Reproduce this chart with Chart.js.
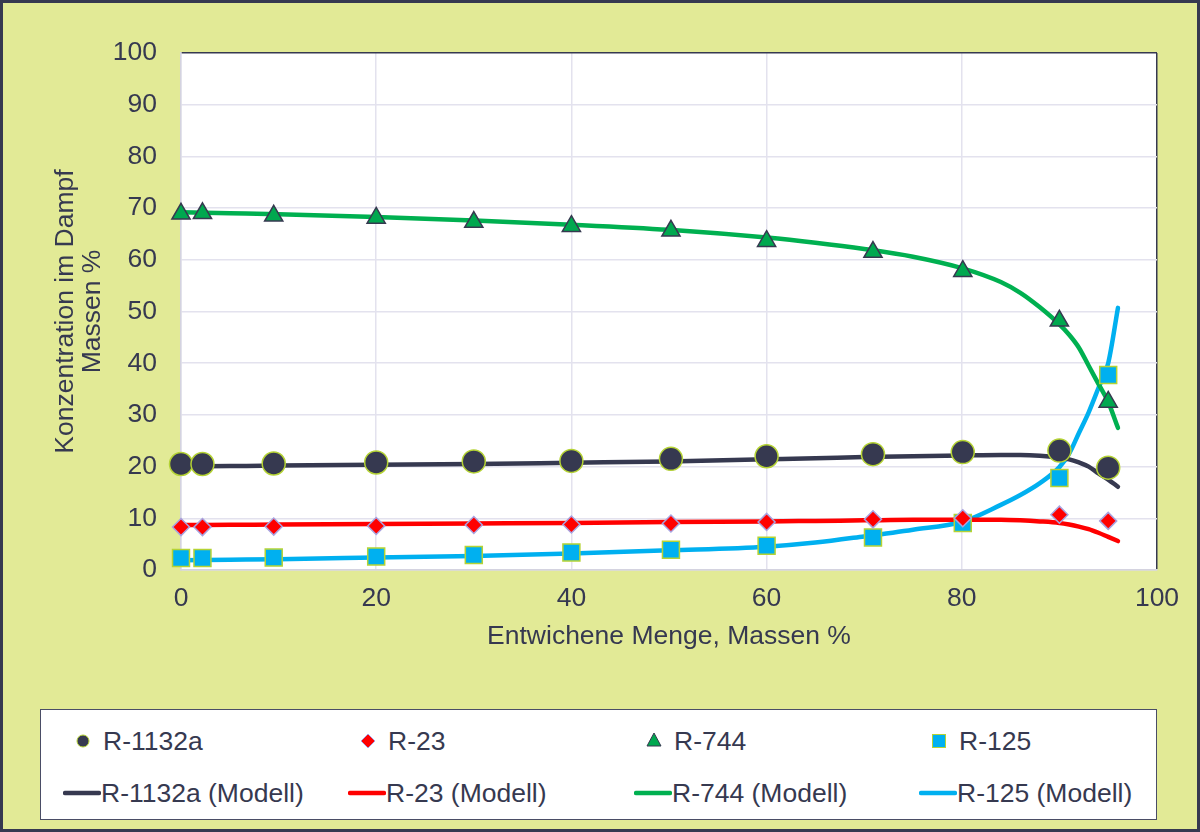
<!DOCTYPE html>
<html>
<head>
<meta charset="utf-8">
<script src="https://cdn.jsdelivr.net/npm/chart.js@4/dist/chart.umd.min.js"></script>
<style>
  body { margin: 0; }
  #page {
    position: relative; width: 1200px; height: 832px; box-sizing: border-box;
    background: #e2ea96; border: 3px solid #363950; overflow: hidden;
    font-family: "Liberation Sans", Arial, sans-serif; color: #363950;
  }
  #wrap { position: absolute; left: -3px; top: -3px; width: 1200px; height: 700px; }
  #legend {
    position: absolute; left: 37px; top: 706px; width: 1117px; height: 111px;
    background: #fff; border: 1.5px solid #4a4d66; box-sizing: border-box;
  }
  .item { position: absolute; font-size: 26.5px; line-height: 30px; white-space: nowrap; }
  .item svg { position: absolute; }
</style>
</head>
<body>
<div id="page">
  <div id="wrap"><canvas id="chart"></canvas></div>
  <div id="legend"></div>
</div>
<script>
// Messpunkte (entwichene Menge in Massen %)
const massX = [0, 2.2, 9.5, 20, 30, 40, 50.2, 60, 70.9, 80.1, 90, 95];
const r1132a = [20.5, 20.5, 20.6, 20.8, 21.0, 21.1, 21.5, 22.0, 22.4, 22.8, 23.1, 19.8];
const r23 = [8.3, 8.3, 8.4, 8.5, 8.7, 8.8, 9.0, 9.3, 9.8, 10.0, 10.7, 9.5];
const r744 = [68.9, 69.0, 68.5, 68.1, 67.3, 66.5, 65.6, 63.6, 61.5, 57.8, 48.2, 32.5];
const r125 = [2.3, 2.3, 2.4, 2.6, 2.9, 3.4, 3.9, 4.7, 6.3, 9.1, 17.8, 37.7];

// Modellkurven
const modelX = [0, 5, 10, 20, 30, 40, 50, 60, 65, 70, 75, 80, 84, 86, 88, 90, 91, 92, 93, 94, 95, 96];
const r1132aModel = [20.0, 20.1, 20.2, 20.35, 20.5, 20.75, 21.0, 21.4, 21.6, 21.85, 22.0, 22.15, 22.25, 22.25, 22.1, 21.7, 21.4, 20.8, 20.0, 18.7, 17.5, 16.1];
const r23Model = [8.7, 8.75, 8.8, 8.9, 9.0, 9.1, 9.3, 9.4, 9.5, 9.6, 9.7, 9.7, 9.7, 9.6, 9.4, 9.1, 8.8, 8.4, 7.9, 7.2, 6.4, 5.6];
const r744Model = [69.2, 69.0, 68.8, 68.3, 67.6, 66.8, 65.8, 64.3, 63.3, 62.1, 60.6, 58.4, 55.7, 53.6, 50.8, 47.5, 45.5, 43.0, 39.5, 36.0, 32.5, 27.5];
const r125Model = [1.9, 2.0, 2.1, 2.4, 2.7, 3.2, 3.8, 4.5, 5.3, 6.5, 7.8, 9.3, 12.6, 14.5, 16.8, 19.9, 22.5, 26.5, 30.5, 35.2, 40.0, 50.7];

const xTitle = 'Entwichene Menge, Massen %';
const yTitle = ['Konzentration im Dampf', 'Massen %'];

const ink = '#363950';
const font = { family: '"Liberation Sans", Arial, sans-serif', size: 26.5 };

function pts(xs, ys) { return xs.map((x, i) => ({ x: x, y: ys[i] })); }

function marker(label, xs, ys, style, radius, fill, border) {
    return {
        label: label, data: pts(xs, ys), showLine: false, order: 0, clip: false,
        pointStyle: style, pointRadius: radius, pointHoverRadius: radius,
        backgroundColor: fill, borderColor: border, borderWidth: 1.5
    };
}
function model(label, xs, ys, color) {
    return {
        label: label, data: pts(xs, ys), showLine: true, order: 1, clip: false,
        pointRadius: 0, borderColor: color, backgroundColor: color,
        borderWidth: 4.5, cubicInterpolationMode: 'monotone', borderCapStyle: 'round'
    };
}

const datasets = [
    marker('R-1132a', massX, r1132a, 'circle', 11.5, ink, '#b5d334'),
    marker('R-23', massX, r23, 'rectRot', 8.5, '#ff0000', '#a9a3e0'),
    marker('R-744', massX, r744, 'triangle', 10.5, '#00a84f', ink),
    marker('R-125', massX, r125, 'rect', 12, '#00b0f0', '#b5d334'),
    model('R-1132a (Modell)', modelX, r1132aModel, ink),
    model('R-23 (Modell)', modelX, r23Model, '#ff0000'),
    model('R-744 (Modell)', modelX, r744Model, '#00b050'),
    model('R-125 (Modell)', modelX, r125Model, '#00b0f0')
];

// weisser Plotbereich
const plotBg = {
    id: 'plotBg',
    beforeDraw(chart) {
        const a = chart.chartArea, ctx = chart.ctx;
        ctx.save();
        ctx.fillStyle = '#ffffff';
        ctx.fillRect(a.left, a.top, a.right - a.left, a.bottom - a.top);
        ctx.restore();
    }
};

new Chart(document.getElementById('chart'), {
    type: 'scatter',
    data: { datasets: datasets },
    plugins: [plotBg],
    options: {
        responsive: true,
        maintainAspectRatio: false,
        animation: false,
        layout: { padding: { left: 0, top: 53, right: 43, bottom: 0 } },
        plugins: { legend: { display: false }, tooltip: { enabled: false } },
        scales: {
            x: {
                type: 'linear', min: 0, max: 100,
                ticks: { stepSize: 20, color: ink, font: font, padding: 13 },
                grid: { drawTicks: false, lineWidth: 1.5,
                        color: c => c.tick.value === 100 ? ink : '#e3e2ee' },
                border: { color: '#d4d3e0', width: 1.5 },
                title: { display: true, text: xTitle, color: ink, font: font, padding: { top: 0, bottom: 47 } },
                afterFit: s => { s.height = 130; }
            },
            y: {
                min: 0, max: 100,
                ticks: { stepSize: 10, color: ink, font: font, padding: 24 },
                grid: { drawTicks: false, lineWidth: 1.5,
                        color: c => c.tick.value === 100 ? ink : '#e3e2ee' },
                border: { color: '#d4d3e0', width: 1.5 },
                title: { display: true, text: yTitle, color: ink,
                         font: { family: font.family, size: 26.5, lineHeight: 1.02 }, padding: { top: 52, bottom: 0 } },
                afterFit: s => { s.width = 181; }
            }
        }
    }
});

// Legende (4 Spalten, 2 Zeilen)
const colX = [62, 347, 633, 918];
const legend = document.getElementById('legend');
datasets.forEach((ds, i) => {
    const col = i % 4, row = Math.floor(i / 4);
    const div = document.createElement('div');
    div.className = 'item';
    let svg;
    if (ds.showLine) {
        svg = '<svg width="38" height="8" style="left:0;top:11px"><line x1="2" y1="4" x2="36" y2="4" stroke="' +
              ds.borderColor + '" stroke-width="4.5" stroke-linecap="round"/></svg>';
    } else if (ds.pointStyle === 'circle') {
        svg = '<svg width="16" height="16" style="left:12px;top:7px"><circle cx="8" cy="8" r="6" fill="' +
              ds.backgroundColor + '" stroke="' + ds.borderColor + '" stroke-width="1"/></svg>';
    } else if (ds.pointStyle === 'rectRot') {
        svg = '<svg width="18" height="18" style="left:11px;top:6px"><polygon points="9,2 16,9 9,16 2,9" fill="' +
              ds.backgroundColor + '" stroke="' + ds.borderColor + '" stroke-width="1"/></svg>';
    } else if (ds.pointStyle === 'triangle') {
        svg = '<svg width="18" height="18" style="left:11px;top:5px"><polygon points="9,2 16,15 2,15" fill="' +
              ds.backgroundColor + '" stroke="' + ds.borderColor + '" stroke-width="1"/></svg>';
    } else {
        svg = '<svg width="18" height="18" style="left:11px;top:6px"><rect x="2.5" y="2.5" width="13" height="13" fill="' +
              ds.backgroundColor + '" stroke="' + ds.borderColor + '" stroke-width="1"/></svg>';
    }
    div.style.left = (colX[col] - 40) + 'px';
    div.style.top = (row === 0 ? 16 : 68) + 'px';
    div.innerHTML = svg + '<span style="margin-left:' + (ds.showLine ? 38 : 40) + 'px">' + ds.label + '</span>';
    legend.appendChild(div);
});
</script>
</body>
</html>
